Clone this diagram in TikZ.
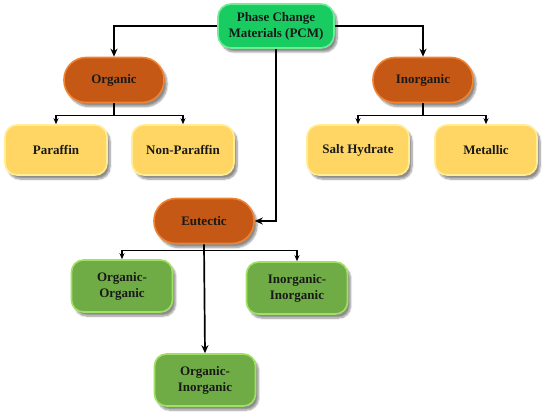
\documentclass[tikz,border=0pt]{standalone}
\usepackage{fontspec}
\setmainfont{Liberation Serif}
\usepackage{tikz}
\usetikzlibrary{arrows.meta,positioning,shadows.blur}
\definecolor{pcmgreen}{RGB}{24,204,98}
\definecolor{pcmedge}{RGB}{110,236,150}
\definecolor{classorange}{RGB}{196,88,20}
\definecolor{classedge}{RGB}{240,130,50}
\definecolor{typeyellow}{RGB}{255,214,100}
\definecolor{typeedge}{RGB}{255,238,150}
\definecolor{mixgreen}{RGB}{112,172,70}
\definecolor{mixedge}{RGB}{160,225,100}

\begin{document}
\begin{tikzpicture}[
  x=1pt, y=-1pt,
  box/.style={draw, line width=1.6pt, align=center, text=black!90,
    font=\bfseries\fontsize{13}{16}\selectfont,
    blur shadow={shadow xshift=3pt, shadow yshift=-4pt, shadow blur steps=8, shadow opacity=45}},
  pcmbox/.style={box, rounded corners=13pt, fill=pcmgreen, draw=pcmedge,
    minimum width=116pt, minimum height=44pt},
  classbox/.style={box, rounded corners=22pt, fill=classorange, draw=classedge,
    minimum width=100pt, minimum height=45pt},
  typebox/.style={box, rounded corners=12pt, fill=typeyellow, draw=typeedge,
    minimum width=102pt, minimum height=50pt},
  mixbox/.style={box, rounded corners=12pt, fill=mixgreen, draw=mixedge,
    minimum width=101pt, minimum height=52pt},
  mainarrow/.style={draw, line width=2pt, -{Stealth[length=8pt,width=7pt]}},
  subarrow/.style={draw, line width=1.3pt, -{Stealth[length=6pt,width=5pt]}}
]
\useasboundingbox (0,0) rectangle (550,420);

% categories
\node[pcmbox] (pcm) at (276,26) {Phase Change\\Materials (PCM)};
\node[classbox] (org) at (114,80) {Organic};
\node[classbox] (inorg) at (423,80) {Inorganic};
\node[classbox] (eut) at (204,221) {Eutectic};

% sub-types
\node[typebox] (par) at (56,150) {Paraffin};
\node[typebox] (nonpar) at (183,150) {Non-Paraffin};
\node[typebox] (salt) at (358,150) {Salt Hydrate};
\node[typebox] (metal) at (486,150) {Metallic};
\node[mixbox] (oo) at (122,286) {Organic-\\Organic};
\node[mixbox] (ii) at (297,288) {Inorganic-\\Inorganic};
\node[mixbox] (oi) at (205,380) {Organic-\\Inorganic};

% connectors
\draw[mainarrow] (pcm.west) -| (org.north);
\draw[mainarrow] (pcm.east) -| (inorg.north);
\draw[mainarrow] (pcm.south) |- (eut.east);
\draw[subarrow] (org.south) -- ++(0,12) -| (par.north);
\draw[subarrow] (org.south) -- ++(0,12) -| (nonpar.north);
\draw[subarrow] (inorg.south) -- ++(0,12) -| (salt.north);
\draw[subarrow] (inorg.south) -- ++(0,12) -| (metal.north);
\draw[subarrow] (eut.south) ++(0,6) -| (oo.north);
\draw[subarrow] (eut.south) ++(0,6) -| (ii.north);
\draw[mainarrow, line width=1.7pt] (eut.south) -- (oi.north);
\end{tikzpicture}
\end{document}
